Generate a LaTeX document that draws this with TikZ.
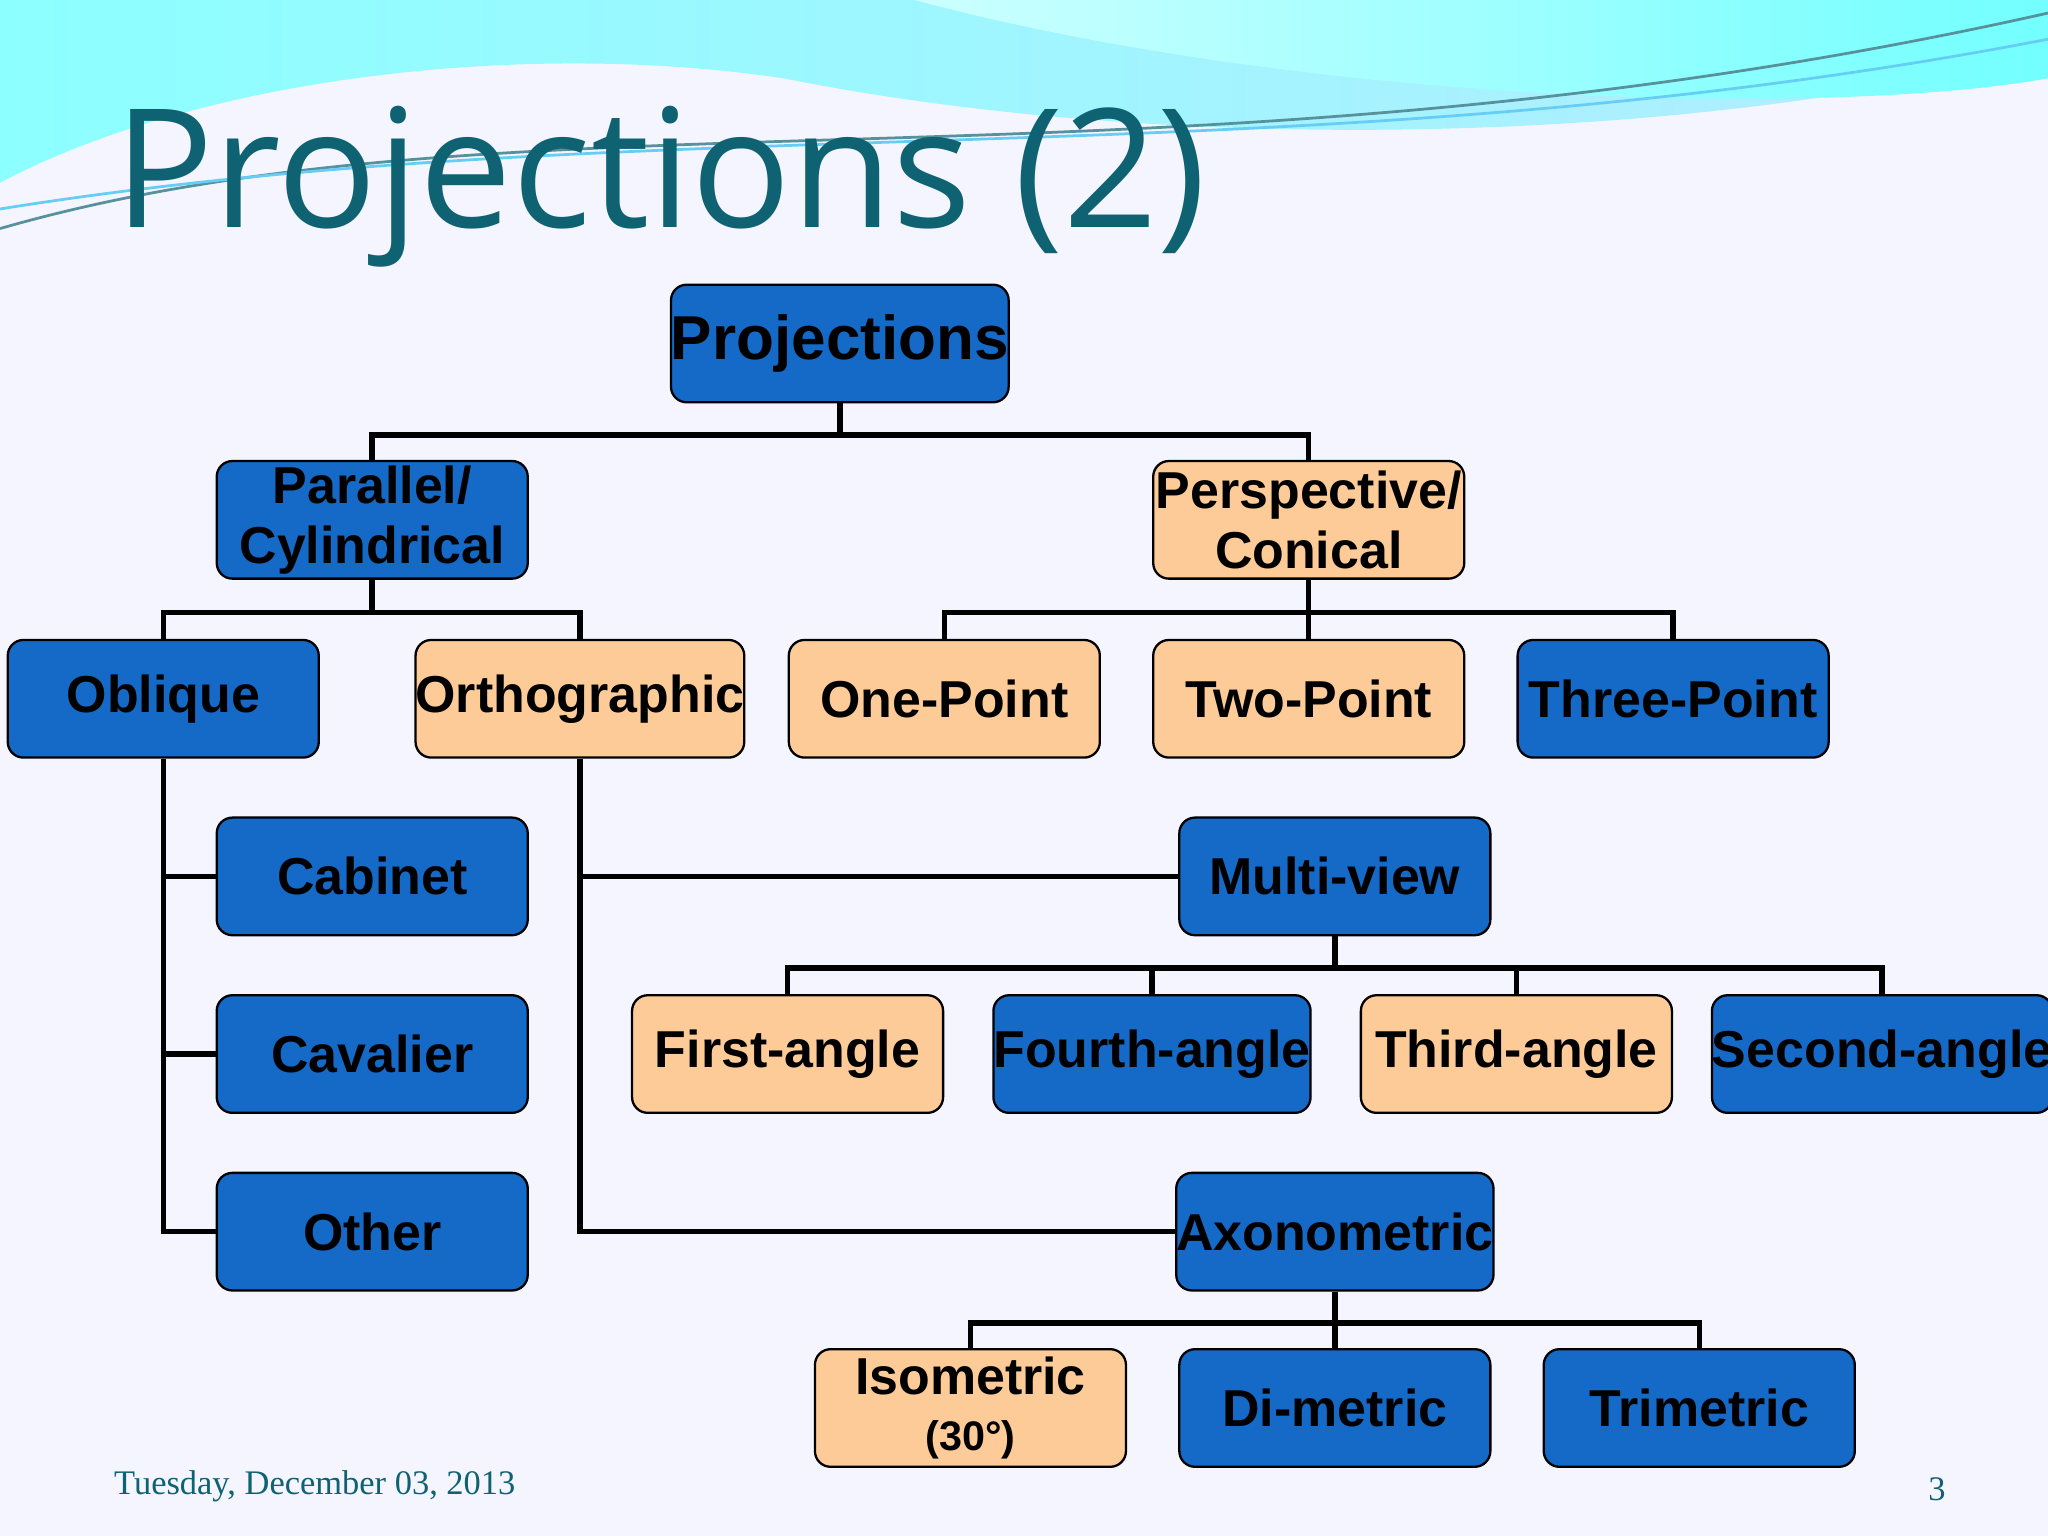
\documentclass[tikz,border=0pt]{standalone}
\usepackage{fontspec}
\setmainfont{Liberation Sans}
\newfontfamily\titlefont{Open Sans}
\newfontfamily\datefont{Liberation Serif}
\definecolor{bl}{HTML}{1569C7}
\definecolor{og}{HTML}{FDCB98}
\definecolor{teal}{HTML}{0E6272}
\begin{document}
\begin{tikzpicture}[x=0.01cm,y=-0.01cm,
  box/.style={draw=black,line width=0.5pt,rounded corners=0.12cm,minimum width=2.38cm,minimum height=0.9cm,align=center,font=\fontsize{11.3}{13}\selectfont\bfseries,inner sep=0pt},
  bb/.style={box,fill=bl},
  ob/.style={box,fill=og},
  ln/.style={line width=1.2pt}]
\fill[white!96!blue] (0,0) rectangle (1568,1176);
\useasboundingbox (0,0) rectangle (1568,1176);
% header waves
\shade[left color=cyan!45,right color=blue!25!cyan!30] (0,0) -- (1568,0) -- (1568,40) .. controls (1300,110) and (900,120) .. (600,60) .. controls (400,30) and (150,60) .. (0,140) -- cycle;
\shade[left color=cyan!20,right color=cyan!55] (700,0) -- (1568,0) -- (1568,60) .. controls (1400,90) and (1000,80) .. (700,0) -- cycle;
\draw[teal!70,line width=0.6pt] (0,175) .. controls (400,60) and (900,160) .. (1568,10);
\draw[cyan!60,line width=0.6pt] (0,160) .. controls (500,80) and (1000,140) .. (1568,30);
\node[anchor=west,text=teal,font=\titlefont\fontsize{36}{40}\selectfont] (title) at (75,143) {Projections (2)};
\node[anchor=west,text=teal,font=\datefont\fontsize{7.5}{9}\selectfont] (date) at (75,1138) {Tuesday, December 03, 2013};
\node[text=teal,font=\datefont\fontsize{7.5}{9}\selectfont] (pg) at (1483,1140) {3};
% nodes
\node[bb,font=\fontsize{13.5}{15}\selectfont\bfseries] (proj) at (643,263) {Projections};
\node[bb] (par) at (285,398) {Parallel/\\Cylindrical};
\node[ob] (per) at (1002,398) {Perspective/\\Conical};
\node[bb] (obl) at (125,535) {Oblique};
\node[ob] (ort) at (444,535) {Orthographic};
\node[ob] (one) at (723,535) {One-Point};
\node[ob] (two) at (1002,535) {Two-Point};
\node[bb] (thr) at (1281,535) {Three-Point};
\node[bb] (cab) at (285,671) {Cabinet};
\node[bb] (cav) at (285,807) {Cavalier};
\node[bb] (oth) at (285,943) {Other};
\node[bb] (mv) at (1022,671) {Multi-view};
\node[ob] (fa) at (603,807) {First-angle};
\node[bb] (fo) at (882,807) {Fourth-angle};
\node[ob] (ta) at (1161,807) {Third-angle};
\node[bb] (sa) at (1441,807) {Second-angle};
\node[bb] (ax) at (1022,943) {Axonometric};
\node[ob] (iso) at (743,1078) {Isometric\\[-1pt]{\fontsize{9}{10}\selectfont (30°)}};
\node[bb] (di) at (1022,1078) {Di-metric};
\node[bb] (tri) at (1301,1078) {Trimetric};
% connectors
\draw[ln] (proj.south) -- (643,333) -| (par.north);
\draw[ln] (643,333) -| (per.north);
\draw[ln] (par.south) -- (285,469) -| (obl.north);
\draw[ln] (285,469) -| (ort.north);
\draw[ln] (per.south) -- (1002,469) -| (one.north);
\draw[ln] (1002,469) -| (thr.north);
\draw[ln] (1002,469) -- (two.north);
\draw[ln] (obl.south) |- (oth.west);
\draw[ln] (125,671) -- (cab.west);
\draw[ln] (125,807) -- (cav.west);
\draw[ln] (ort.south) |- (ax.west);
\draw[ln] (444,671) -- (mv.west);
\draw[ln] (mv.south) -- (1022,741) -| (fa.north);
\draw[ln] (1022,741) -| (sa.north);
\draw[ln] (882,741) -- (fo.north);
\draw[ln] (1161,741) -- (ta.north);
\draw[ln] (ax.south) -- (1022,1013) -| (iso.north);
\draw[ln] (1022,1013) -| (tri.north);
\draw[ln] (1022,1013) -- (di.north);
\end{tikzpicture}
\end{document}
